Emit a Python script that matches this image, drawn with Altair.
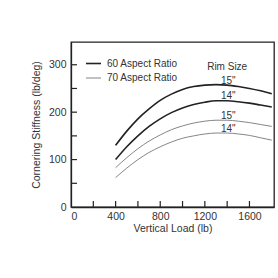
import altair as alt
import pandas as pd

loads = [400, 500, 600, 700, 800, 900, 1000, 1100, 1200, 1300, 1400, 1500, 1600, 1700, 1800]
ar60_r15 = [130, 160, 186, 207, 225, 238, 248, 254, 257, 258, 257, 254, 250, 245, 239]
ar60_r14 = [100, 127, 150, 170, 186, 199, 209, 216, 221, 224, 224, 222, 219, 215, 211]
ar70_r15 = [83, 104, 123, 139, 152, 163, 171, 177, 181, 183, 183, 181, 178, 174, 170]
ar70_r14 = [62, 82, 100, 115, 127, 137, 145, 150, 154, 156, 156, 154, 151, 146, 141]

series_names = ["60 Aspect Ratio", "70 Aspect Ratio"]
x_ticks = [200, 400, 600, 800, 1000, 1200, 1400, 1600]
y_ticks = [50, 100, 150, 200, 250, 300]
x_labels = [0, 400, 800, 1200, 1600]
y_labels = [0, 100, 200, 300]

rim_text = ["Rim Size", '15"', '14"', '15"', '14"']
rim_x = [1400, 1410, 1410, 1410, 1410]
rim_y = [296, 265, 234, 192, 165]

rows = []
for name, vals, curve in [(series_names[0], ar60_r15, "a"), (series_names[0], ar60_r14, "b"),
                          (series_names[1], ar70_r15, "c"), (series_names[1], ar70_r14, "d")]:
    for x, v in zip(loads, vals):
        rows.append({"load": x, "stiff": v, "series": name, "curve": curve})
df = pd.DataFrame(rows)

W, H = 203, 165
FONT = "Liberation Sans"

xs = alt.Scale(domain=[0, 1820], nice=False, zero=False)
ys = alt.Scale(domain=[0, 348], nice=False, zero=False)
XT = "Vertical Load (lb)"
YT = "Cornering Stiffness (lb/deg)"

leg = alt.Legend(title=None, orient="none", legendX=14, legendY=13,
                 symbolType="stroke", symbolSize=225, labelFontSize=10,
                 labelFont=FONT, labelColor="#333", rowPadding=1, labelOffset=5)

lines = alt.Chart(df).mark_line(interpolate="monotone").encode(
    x=alt.X("load:Q", scale=xs, title=XT,
            axis=alt.Axis(values=x_labels, format="d", ticks=False, grid=False, domainColor="#222",
                          domainWidth=1.3, labelPadding=4, titlePadding=2)),
    y=alt.Y("stiff:Q", scale=ys, title=YT,
            axis=alt.Axis(values=y_labels, format="d", ticks=False, grid=False, domainColor="#222",
                          domainWidth=1.3, labelPadding=5, titlePadding=7)),
    detail="curve:N",
    color=alt.Color("series:N", scale=alt.Scale(domain=series_names, range=["#222222", "#777777"]),
                    legend=leg),
    strokeWidth=alt.StrokeWidth("series:N", scale=alt.Scale(domain=series_names, range=[1.6, 0.9]),
                                legend=leg),
)

xt = alt.Chart(pd.DataFrame({"load": x_ticks})).mark_rule(color="#222", strokeWidth=1.2).encode(
    x=alt.X("load:Q", scale=xs, title=XT), y=alt.value(H), y2=alt.value(H - 6))
yt = alt.Chart(pd.DataFrame({"stiff": y_ticks})).mark_rule(color="#222", strokeWidth=1.2).encode(
    y=alt.Y("stiff:Q", scale=ys, title=YT), x=alt.value(0), x2=alt.value(6))

txt = alt.Chart(pd.DataFrame({"t": rim_text, "load": rim_x, "stiff": rim_y})).mark_text(
    font=FONT, fontSize=10, color="#333").encode(
    x=alt.X("load:Q", scale=xs, title=XT), y=alt.Y("stiff:Q", scale=ys, title=YT), text="t:N")

chart = alt.layer(lines, xt, yt, txt).properties(
    width=W, height=H,
    background="white",
    autosize=alt.AutoSizeParams(type="none"),
    padding={"left": 71, "top": 42, "right": 4, "bottom": 71},
).configure_view(stroke="#222", strokeWidth=1.3).configure_axis(
    labelFont=FONT, titleFont=FONT, labelFontSize=10.5, titleFontSize=10.5,
    labelColor="#333", titleColor="#333", titleFontWeight="normal"
)

chart.save("out.html", embed_options={"renderer": "svg", "actions": False})
